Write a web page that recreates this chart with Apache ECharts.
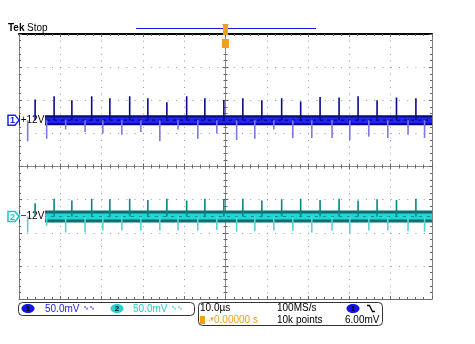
<!DOCTYPE html>
<html><head><meta charset="utf-8">
<script src="https://cdn.jsdelivr.net/npm/echarts@6/dist/echarts.min.js"></script>
<style>html,body{margin:0;padding:0;background:#fff}#c{width:475px;height:344px}</style>
</head><body><div id="c"></div>
<script>
// Time axis: 10.0 µs/div, 10 divisions, trigger at centre
const timeMin = -50, timeMax = 50, timeDiv = 10;
// Vertical: 50.0 mV/div, 8 divisions
const voltMin = -200, voltMax = 200, voltDiv = 50;

// Channel positions (mV of screen offset)
const ch1Offset = 70;
const ch2Offset = -75.5;

// Ripple band (flat) endpoints
const bandT = [-50, 50];
const ch1Band = [0, 0];
const ch2Band = [0, 0];

// Channel 1 (+12V) switching spikes, µs and mV
const ch1UpT = [-46.1, -41.5, -37.2, -32.4, -28.0, -23.2, -18.8, -14.2, -9.4, -5.0, -0.4, 4.2, 8.8, 13.6, 18.2, 22.9, 27.5, 32.1, 36.7, 41.4, 46.1];
const ch1UpV = [31, 36, 30, 36, 33, 36, 33, 27, 36, 33, 30, 33, 30, 33, 28, 35, 34, 36, 30, 34, 33];
const ch1DnT = [-47.9, -43.3, -38.7, -34.0, -29.7, -25.1, -20.5, -15.9, -11.5, -6.7, -2.1, 2.7, 7.1, 11.7, 16.3, 20.9, 25.8, 30.1, 34.7, 39.3, 44.2, 48.2];
const ch1DnV = [-32, -28, -14, -18, -20, -22, -18, -32, -14, -28, -20, -30, -28, -14, -27, -27, -27, -30, -25, -27, -22, -27];

// Channel 2 (-12V) switching spikes
const ch2UpT = [-46.1, -41.5, -37.2, -32.4, -28.0, -23.2, -18.8, -14.2, -9.4, -5.0, -0.4, 4.2, 8.8, 13.6, 18.2, 22.9, 27.5, 32.1, 36.7, 41.4, 46.1];
const ch2UpV = [20, 27, 24, 27, 26, 27, 25, 27, 24, 27, 26, 27, 24, 26, 27, 25, 27, 24, 26, 25, 27];
const ch2DnT = [-47.9, -43.3, -38.7, -34.0, -29.7, -25.1, -20.5, -15.9, -11.5, -6.7, -2.1, 2.7, 7.1, 11.7, 16.3, 20.9, 25.8, 30.1, 34.7, 39.3, 44.2, 48.2];
const ch2DnV = [-24, -14, -24, -24, -21, -21, -21, -21, -21, -21, -20, -23, -22, -21, -22, -24, -21, -25, -21, -21, -22, -23];

// Readout texts
const ch1Label = '+12V', ch2Label = '\u221212V';
const ch1Scale = '50.0mV', ch2Scale = '50.0mV';
const timeScale = '10.0\u00b5s', sampleRate = '100MS/s', recordLen = '10k points', trigLevel = '6.00mV', trigPos = '0.00000 s';

function bandData(ts, vs, off) { return ts.map((t, i) => [t, vs[i] + off]); }
function spikeData(ts, vs, off) {
  const d = [];
  ts.forEach((t, i) => { d.push([t, off], [t, off + vs[i]], [t, '-']); });
  return d;
}

const chart = echarts.init(document.getElementById('c'), null, {renderer: 'canvas'});
const FONT = '"Liberation Sans", Arial, sans-serif';
const gridRect = {left: 19, top: 34, width: 413, height: 265};

function xAx(grid, pos, onZero, lineColor, lineWidth, split) {
  return {gridIndex: grid, type: 'value', min: timeMin, max: timeMax, interval: timeDiv, position: pos,
    axisLine: {show: true, onZero: onZero, lineStyle: {color: lineColor, width: lineWidth}},
    axisTick: {show: true, inside: true, length: 3, lineStyle: {color: '#666'}},
    minorTick: {show: true, splitNumber: 5, length: 2, lineStyle: {color: '#666'}},
    axisLabel: {show: false},
    splitLine: {show: split, lineStyle: {color: '#9a9a9a', width: 1, type: [1, 5.625]}}};
}
function yAx(grid, pos, onZero, lineColor, split) {
  return {gridIndex: grid, type: 'value', min: voltMin, max: voltMax, interval: voltDiv, position: pos,
    axisLine: {show: true, onZero: onZero, lineStyle: {color: lineColor, width: 1}},
    axisTick: {show: true, inside: true, length: 3, lineStyle: {color: '#666'}},
    minorTick: {show: true, splitNumber: 5, length: 2, lineStyle: {color: '#666'}},
    axisLabel: {show: false},
    splitLine: {show: split, lineStyle: {color: '#9a9a9a', width: 1, type: [1, 7.26]}}};
}

function labelMark(text, off) {
  return {symbol: 'none', silent: true, animation: false,
    data: [{coord: [timeMin, off], symbol: 'rect', symbolSize: [25, 13], symbolOffset: [13.5, 0],
      itemStyle: {color: '#fff'},
      label: {show: true, position: 'inside', formatter: text, color: '#000', fontSize: 10, fontFamily: FONT}}]};
}

const series = [
  {type: 'line', xAxisIndex: 0, yAxisIndex: 0, data: bandData(bandT, ch1Band, ch1Offset), symbol: 'none', z: 3,
    lineStyle: {color: '#07077e', width: 10}},
  {type: 'line', xAxisIndex: 0, yAxisIndex: 0, data: bandData(bandT, ch1Band, ch1Offset), symbol: 'none', z: 4,
    lineStyle: {color: '#2222f2', width: 6}},
  {type: 'line', xAxisIndex: 0, yAxisIndex: 0, data: bandData(bandT, ch1Band, ch1Offset), symbol: 'none', z: 4,
    lineStyle: {color: '#0a0a9c', width: 1.5, type: [3, 4]}},
  {type: 'line', xAxisIndex: 0, yAxisIndex: 0, data: spikeData(ch1DnT, ch1DnV, ch1Offset), symbol: 'none', z: 5,
    lineStyle: {color: '#7a7ae6', width: 1.6}},
  {type: 'line', xAxisIndex: 0, yAxisIndex: 0, data: spikeData(ch1UpT, ch1UpV, ch1Offset), symbol: 'none', z: 5,
    lineStyle: {color: '#0a0a90', width: 1.6}, markPoint: labelMark(ch1Label, ch1Offset)},
  {type: 'line', xAxisIndex: 0, yAxisIndex: 0, data: bandData(bandT, ch2Band, ch2Offset), symbol: 'none', z: 3,
    lineStyle: {color: '#0c6e6e', width: 12}},
  {type: 'line', xAxisIndex: 0, yAxisIndex: 0, data: bandData(bandT, ch2Band, ch2Offset), symbol: 'none', z: 4,
    lineStyle: {color: '#22d6d6', width: 6}},
  {type: 'line', xAxisIndex: 0, yAxisIndex: 0, data: bandData(bandT, ch2Band, ch2Offset), symbol: 'none', z: 4,
    lineStyle: {color: '#0e8c8c', width: 1.2, type: [3, 5]}},
  {type: 'line', xAxisIndex: 0, yAxisIndex: 0, data: spikeData(ch2DnT, ch2DnV, ch2Offset), symbol: 'none', z: 5,
    lineStyle: {color: '#55d4d4', width: 1.6}},
  {type: 'line', xAxisIndex: 0, yAxisIndex: 0, data: spikeData(ch2UpT, ch2UpV, ch2Offset), symbol: 'none', z: 5,
    lineStyle: {color: '#058585', width: 1.6}, markPoint: labelMark(ch2Label, ch2Offset)}
];

chart.setOption({
  animation: false,
  backgroundColor: '#fff',
  grid: [Object.assign({}, gridRect), Object.assign({}, gridRect)],
  xAxis: [xAx(0, 'top', false, '#000', 2, true), xAx(0, 'bottom', false, '#707070', 1, false),
          xAx(1, 'bottom', true, '#8a8a8a', 1, false), xAx(1, 'top', true, '#8a8a8a', 1, false)],
  yAxis: [yAx(0, 'left', false, '#808080', true), yAx(0, 'right', false, '#808080', false),
          yAx(1, 'left', true, '#8a8a8a', false), yAx(1, 'right', true, '#8a8a8a', false)],
  series: series
});

const y1 = chart.convertToPixel({xAxisIndex: 0, yAxisIndex: 0}, [0, ch1Offset])[1];
const y2 = chart.convertToPixel({xAxisIndex: 0, yAxisIndex: 0}, [0, ch2Offset])[1];
const xc = chart.convertToPixel({xAxisIndex: 0, yAxisIndex: 0}, [0, 0])[0];

function txt(x, y, text, fill, size, bold, align) {
  return {type: 'text', x: x, y: y, silent: true, z: 10,
    style: {text: text, fill: fill, font: (bold ? 'bold ' : '') + size + 'px ' + FONT, align: align || 'left', verticalAlign: 'middle'}};
}
function chMarker(y, n, color) {
  return [{type: 'polygon', z: 10, shape: {points: [[8, y - 5], [15, y - 5], [19, y], [15, y + 5], [8, y + 5]]},
    style: {fill: '#fff', stroke: color, lineWidth: 1.5}},
    txt(12.5, y + 0.5, n, color, 9, true, 'center')];
}
function badge(cx, cy, n, color) {
  return [{type: 'ellipse', z: 10, shape: {cx: cx, cy: cy, rx: 6.5, ry: 4.5}, style: {fill: color}},
    txt(cx, cy + 0.5, n, '#000', 8, true, 'center')];
}
const orange = '#f0a020';
const graphic = [
  txt(8, 28.5, 'Tek', '#000', 10, true),
  txt(27, 28.5, 'Stop', '#000', 10, false),
  {type: 'line', z: 10, shape: {x1: 136, y1: 28.5, x2: 316, y2: 28.5}, style: {stroke: '#1414e6', lineWidth: 1}},
  {type: 'rect', z: 11, shape: {x: xc - 2.5, y: 25, width: 5, height: 10}, style: {fill: orange}},
  {type: 'line', z: 11, shape: {x1: xc - 3, y1: 24.5, x2: xc + 3, y2: 24.5}, style: {stroke: orange, lineWidth: 1}},
  {type: 'rect', z: 11, shape: {x: xc - 3.5, y: 39, width: 7, height: 9}, style: {fill: orange}},
  txt(xc, 44, 'T', '#fff', 8, true, 'center'),
  ...chMarker(y1, '1', '#2020f0'),
  ...chMarker(y2, '2', '#18c8c8'),
  {type: 'rect', z: 10, shape: {x: 18.5, y: 302.5, width: 176, height: 13, r: 4}, style: {fill: 'none', stroke: '#333', lineWidth: 1}},
  ...badge(28, 308.5, '1', '#1414f0'),
  txt(45, 309, ch1Scale, '#2020f0', 10, false),
  txt(83, 308.5, '\u223f\u223f', '#2020f0', 7, false),
  ...badge(117, 308.5, '2', '#20d4d4'),
  txt(133, 309, ch2Scale, '#22cccc', 10, false),
  txt(171, 308.5, '\u223f\u223f', '#22cccc', 7, false),
  {type: 'rect', z: 10, shape: {x: 198.5, y: 302.5, width: 184, height: 23, r: 4}, style: {fill: 'none', stroke: '#333', lineWidth: 1}},
  txt(200, 308.5, timeScale, '#000', 10, false),
  txt(277, 308.5, sampleRate, '#000', 10, false),
  ...badge(353, 308.5, '1', '#1414f0'),
  {type: 'polyline', z: 10, shape: {points: [[367, 305.5], [369.5, 305.5], [372.5, 311.5], [375, 311.5]]}, style: {stroke: '#000', lineWidth: 1.3, fill: 'none'}},
  {type: 'rect', z: 10, shape: {x: 200, y: 316, width: 5, height: 8}, style: {fill: orange}},
  txt(205, 320, '\u2192', orange, 7, false),
  txt(209, 319.5, '\u25bc', orange, 6, false),
  txt(214, 320.5, trigPos, orange, 10, false),
  txt(277, 320.5, recordLen, '#000', 10, false),
  txt(345, 320.5, trigLevel, '#000', 10, false)
];
chart.setOption({graphic: graphic});
</script>
</body></html>
